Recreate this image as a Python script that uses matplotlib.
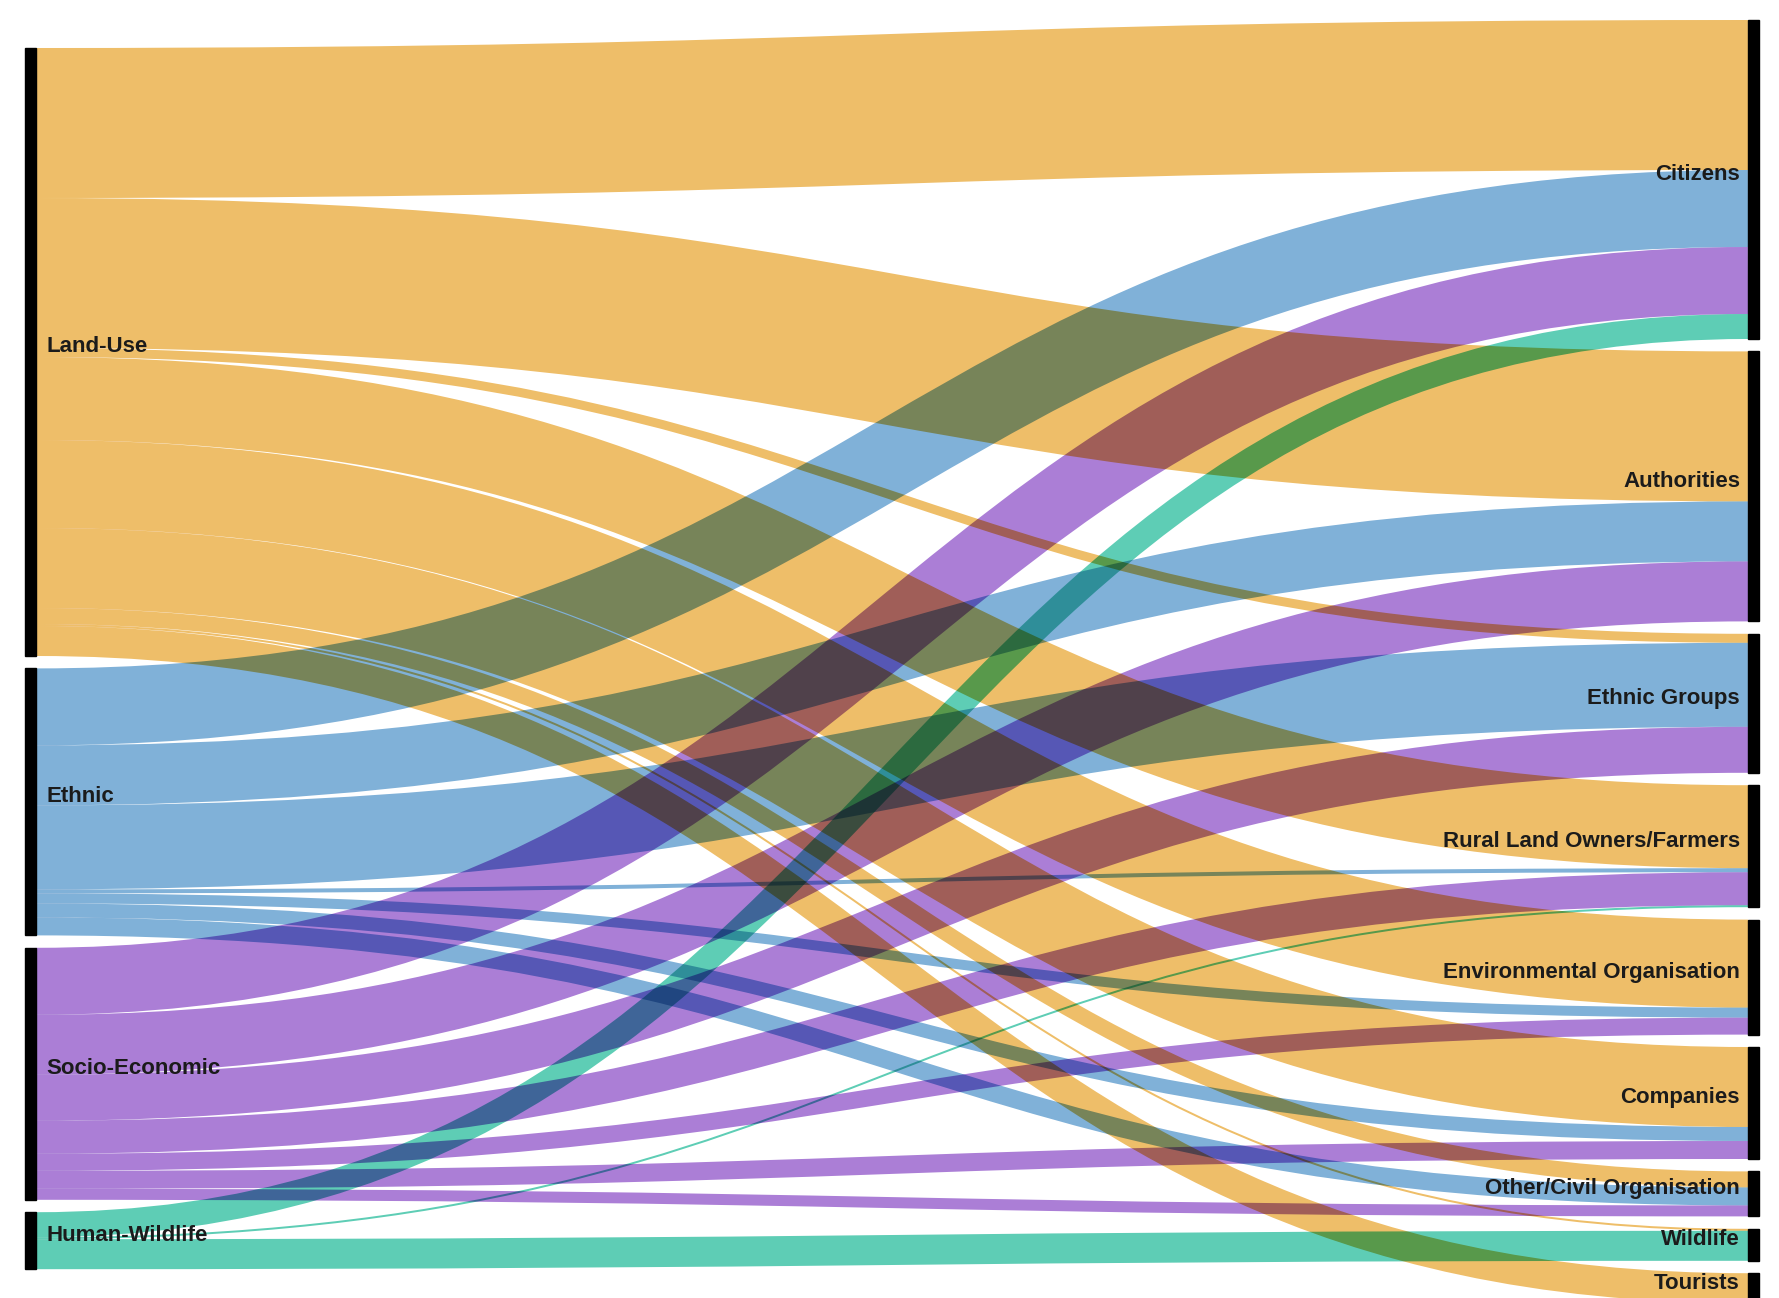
import numpy as np
import matplotlib
matplotlib.use("Agg")
import matplotlib.pyplot as plt
import matplotlib.colors as mcolors
from matplotlib.patches import PathPatch, Rectangle
from matplotlib.path import Path

plt.rcParams['font.family'] = ['Liberation Sans', 'DejaVu Sans']

# Nodes
sources = ["Land-Use", "Ethnic", "Socio-Economic", "Human-Wildlife"]
targets = ["Citizens", "Authorities", "Ethnic Groups", "Rural Land Owners/Farmers",
           "Environmental Organisation", "Companies", "Other/Civil Organisation",
           "Wildlife", "Tourists"]

# link weights per source, in target order
land_use = [150, 150, 9, 83, 88, 80, 16, 2, 30]
ethnic = [77, 60, 84, 4, 10, 14, 18, 0, 0]
socio_economic = [67, 60, 46, 33, 17, 18, 11, 0, 0]
human_wildlife = [25, 0, 0, 2, 0, 0, 0, 30, 0]

source_colors = ["#EEBE69", "#80B1D8", "#AB7ED6", "#5ECDB5"]


class MultiplyPatch(PathPatch):
    """PathPatch composited with a multiply blend (like the svg mix-blend-mode)."""

    def draw(self, renderer):
        if not self.get_visible():
            return
        if not hasattr(renderer, "buffer_rgba"):
            return super().draw(renderer)
        renderer.start_filter()
        super().draw(renderer)
        layer = np.asarray(renderer.buffer_rgba()).astype(float) / 255
        renderer.stop_filter(lambda img, dpi: (np.zeros((1, 1, 4)), 0, 0))
        base = np.asarray(renderer.buffer_rgba()).astype(float) / 255
        a = layer[..., 3:4]
        col = np.array(mcolors.to_rgb(self.get_edgecolor()))
        out = base.copy()
        out[..., :3] = base[..., :3] * (1 - a + a * col)
        out[..., 3] = 1
        gc = renderer.new_gc()
        renderer.draw_image(gc, 0, 0, np.ascontiguousarray((out[::-1] * 255).round().astype(np.uint8)))
        gc.restore()


def plot_alluvial():
    W, H = 1779, 1298
    fig = plt.figure(figsize=(W / 100, H / 100), dpi=100)
    ax = fig.add_axes([0, 0, 1, 1])
    ax.set_xlim(0, W)
    ax.set_ylim(H, 0)
    ax.axis('off')

    links = [land_use, ethnic, socio_economic, human_wildlife]
    gap = 12.4
    left_top, right_top = 48, 20
    x_left, x_right = 36, 1748
    bar_w = 11

    src_tot = [sum(r) for r in links]
    tgt_tot = [sum(r[j] for r in links) for j in range(len(targets))]

    src_y = np.concatenate([[0], np.cumsum(src_tot)[:-1]]) + np.arange(len(sources)) * gap + left_top
    tgt_y = np.concatenate([[0], np.cumsum(tgt_tot)[:-1]]) + np.arange(len(targets)) * gap + right_top

    # pixels per data unit -> stroke width in points
    px = abs(ax.transData.transform((0, 1))[1] - ax.transData.transform((0, 0))[1])
    pt_per_unit = px * 72 / fig.dpi

    src_off = [0.0] * len(sources)
    tgt_off = [0.0] * len(targets)
    xm = (x_left + x_right) / 2
    for i in range(len(sources)):
        for j in range(len(targets)):
            v = links[i][j]
            if v <= 0:
                continue
            y0 = src_y[i] + src_off[i] + v / 2
            y1 = tgt_y[j] + tgt_off[j] + v / 2
            src_off[i] += v
            tgt_off[j] += v
            path = Path([(x_left, y0), (xm, y0), (xm, y1), (x_right, y1)],
                        [Path.MOVETO, Path.CURVE4, Path.CURVE4, Path.CURVE4])
            ax.add_patch(MultiplyPatch(path, facecolor='none', edgecolor=source_colors[i],
                                       lw=v * pt_per_unit, capstyle='butt', zorder=1))

    # node bars + labels
    for i, name in enumerate(sources):
        ax.add_patch(Rectangle((x_left - bar_w, src_y[i]), bar_w, src_tot[i], color='black', zorder=3))
        ax.text(x_left + 10, src_y[i] + src_tot[i] / 2 - 5, name, fontsize=16, fontweight='bold',
                color='#1b1b1b', ha='left', va='center', zorder=4)
    for j, name in enumerate(targets):
        ax.add_patch(Rectangle((x_right, tgt_y[j]), bar_w, tgt_tot[j], color='black', zorder=3))
        ax.text(x_right - 8, tgt_y[j] + tgt_tot[j] / 2 - 5, name, fontsize=16, fontweight='bold',
                color='#1b1b1b', ha='right', va='center', zorder=4)

    fig.savefig("out.png", dpi=100)


if __name__ == '__main__':
    plot_alluvial()
